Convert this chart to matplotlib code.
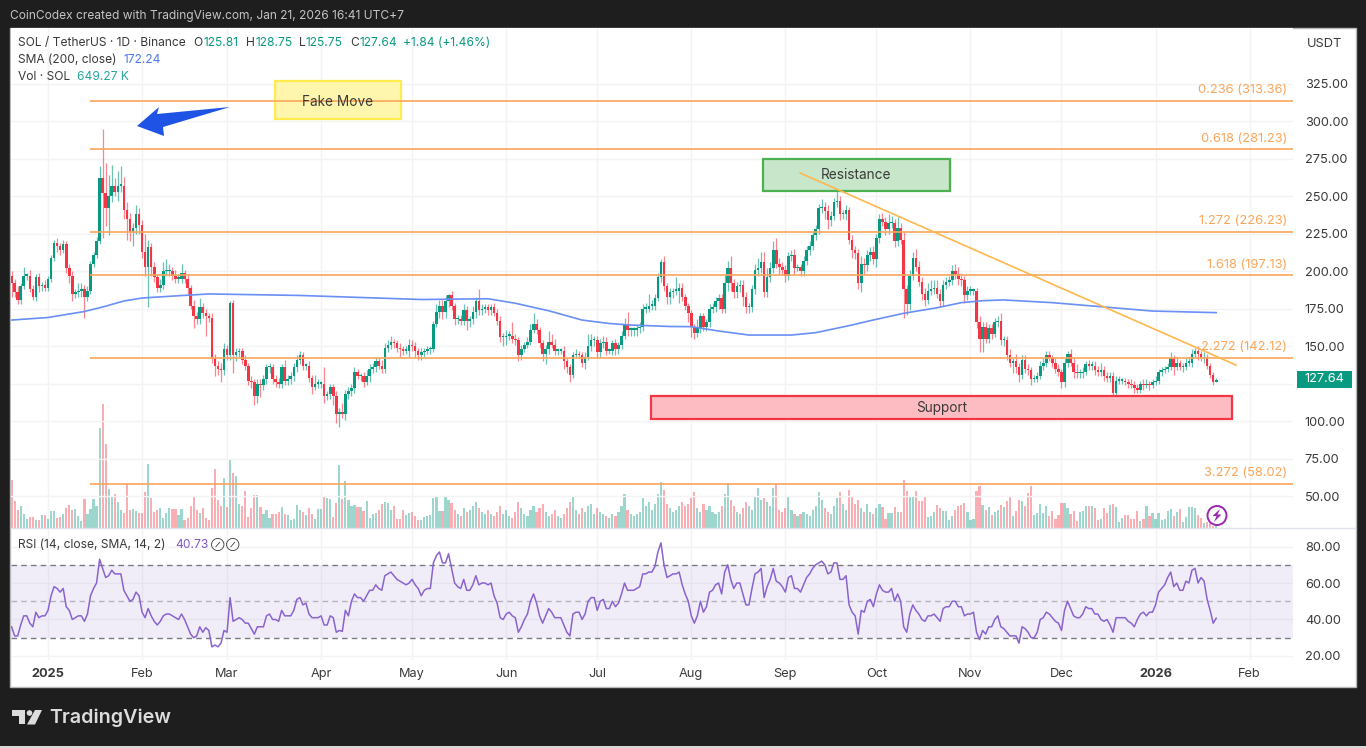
import matplotlib
matplotlib.use('Agg')
import matplotlib.pyplot as plt
import matplotlib.transforms as mtransforms
from matplotlib.patches import Rectangle, Polygon, Circle
from matplotlib.lines import Line2D
import numpy as np
import pandas as pd

plt.rcParams['font.family'] = ['Inter', 'DejaVu Sans']

# Daily closes, one row per month, Dec 20 2024 .. Jan 21 2026
closes = [
    192,186,181,190,197,197,188,183,196,190,191,189,
    195,209,219,217,214,218,202,197,185,186,187,188,183,187,205,211,220,262,252,242,250,257,253,257,257,241,235,226,229,238,231,
    213,203,216,203,196,189,191,200,200,200,197,195,195,199,195,189,177,170,168,176,172,170,169,142,137,135,134,148,
    144,179,144,146,147,141,137,127,126,117,125,124,128,136,136,128,126,125,136,127,128,130,136,141,144,137,137,129,123,125,125,
    125,117,118,123,117,105,106,105,118,120,122,133,130,130,126,130,135,136,140,137,135,149,151,153,152,149,148,147,147,151,
    150,147,144,146,147,148,148,165,173,177,173,180,184,177,168,168,167,174,167,168,173,180,174,175,176,174,176,172,167,156,156,
    157,157,155,154,144,148,151,153,161,165,161,152,145,148,153,151,147,147,147,140,136,131,144,145,144,139,143,150,154,154,
    146,152,153,147,147,152,148,151,157,165,161,161,161,162,163,175,175,177,177,182,196,206,190,183,186,187,187,189,183,177,172,
    163,159,162,170,163,166,175,176,180,182,175,192,202,192,186,190,191,183,176,176,188,201,202,206,186,196,202,214,205,203,201,
    197,210,211,202,203,200,207,214,217,224,228,242,243,240,234,237,246,247,238,238,241,221,214,212,192,205,204,211,213,208,
    222,235,233,228,232,232,220,229,221,188,178,197,209,203,193,185,181,187,188,189,185,180,191,193,194,200,198,195,194,184,187,
    187,187,166,155,163,155,162,158,166,167,154,154,144,139,140,136,131,141,135,134,128,128,130,137,139,144,142,139,135,133,
    126,139,145,139,133,132,132,133,138,137,137,134,133,134,130,129,130,119,127,127,127,126,125,124,122,121,125,124,125,124,126,
    127,133,134,135,136,142,136,139,136,136,139,139,145,147,145,142,143,137,131,125.81,127.64,
]
first_open = 197

# Wick length above the body
wick_up = [
    3,3,4,2,6,2,4,3,2,3,2,3,
    2,2,2,3,2,3,2,3,3,2,5,4,3,3,2,2,3,8,33,20,14,14,5,10,13,6,5,4,3,6,4,
    3,12,5,3,3,2,4,6,8,5,3,4,3,6,2,3,2,4,3,6,3,3,2,3,3,3,4,4,
    3,1,2,3,2,2,3,2,3,2,3,3,3,2,3,2,3,3,2,5,3,3,3,3,3,2,2,3,2,6,3,
    2,11,2,2,2,3,3,6,3,3,3,3,2,2,3,4,3,3,3,3,4,3,3,4,2,2,3,2,3,4,
    3,3,2,3,2,2,2,2,5,4,4,4,1,3,2,3,3,4,3,2,4,3,8,3,2,2,2,3,3,3,3,
    4,3,9,3,2,3,2,3,4,7,3,2,2,3,7,5,4,2,2,3,2,2,2,3,2,2,3,8,4,3,
    3,3,4,3,2,2,3,2,3,4,8,2,2,2,3,3,4,8,4,3,3,2,4,2,3,2,9,3,3,2,2,
    2,2,6,2,2,2,3,3,3,3,3,6,5,8,3,3,3,3,3,3,3,4,7,7,7,6,4,6,8,4,3,
    3,3,3,4,2,2,3,3,3,3,3,3,5,3,4,3,3,7,3,3,3,2,3,3,3,5,4,3,3,4,
    3,3,4,3,6,5,3,7,3,5,3,4,4,6,4,3,4,5,6,5,5,3,3,3,3,4,5,5,4,3,3,
    3,2,2,4,3,3,3,3,3,3,5,3,3,4,3,5,3,3,3,3,2,3,3,3,3,3,3,2,3,3,
    2,3,2,3,3,5,3,3,2,3,3,3,3,5,3,3,3,3,3,3,2,2,2,3,3,3,2,3,3,2,2,
    3,2,2,2,3,4,2,3,2,3,3,4,3,2,3,2,3,2,2,2,1.11,
]

# Wick length below the body
wick_down = [
    9,3,3,3,2,3,2,2,3,4,3,2,
    2,2,2,4,3,2,3,5,5,3,3,4,14,3,2,2,2,2,30,12,18,4,3,6,4,6,14,6,9,4,6,
    4,6,27,6,3,3,3,3,3,3,3,3,3,3,3,4,2,8,3,3,3,13,3,3,7,4,8,3,
    3,3,12,4,3,3,3,3,4,6,5,8,3,3,4,3,3,3,3,3,3,3,3,3,3,3,3,3,5,2,3,
    3,5,3,3,6,6,9,3,4,3,3,3,2,3,3,2,4,3,3,2,3,3,3,3,3,3,5,3,2,4,
    3,4,3,3,3,2,3,2,2,4,5,4,4,3,4,3,3,3,6,4,3,4,3,3,3,3,3,2,3,3,6,
    5,3,3,3,4,3,2,2,2,2,3,3,5,7,3,2,3,3,2,5,4,5,2,2,2,3,4,2,3,4,
    4,3,3,3,2,3,4,3,3,2,4,4,4,4,3,3,3,2,3,3,2,3,3,5,5,4,3,8,3,3,6,
    7,4,3,3,3,3,3,3,3,5,3,3,5,5,4,4,4,6,4,4,3,3,4,3,3,3,3,3,3,5,3,
    4,3,3,4,2,3,3,3,3,3,3,3,3,5,6,4,3,3,4,3,4,3,5,4,4,6,6,4,4,3,
    5,3,3,4,3,3,4,3,3,19,7,4,3,3,3,4,4,3,3,3,3,4,3,3,3,3,3,4,4,5,3,
    3,3,4,9,9,3,3,3,2,3,3,4,3,3,7,4,5,3,3,3,4,2,2,2,3,3,2,3,3,3,
    4,3,3,2,4,3,3,3,2,3,3,3,3,3,3,3,3,3,3,2,2,2,3,2,3,2,2,3,2,3,2,
    2,2,3,2,2,2,5,2,2,3,2,2,3,2,4,2,3,2,2,2,0.06,
]

# Volume, in units of 200K SOL
volume = [
    48,27,18,22,14,9,11,11,8,8,13,13,
    9,17,17,10,11,14,20,23,18,19,12,7,29,14,19,29,22,100,124,84,39,31,34,26,18,15,45,18,19,17,15,
    15,36,64,30,16,18,20,10,15,20,19,19,13,19,8,10,22,32,18,15,20,10,8,40,59,28,22,50,
    21,68,55,52,24,22,37,11,20,33,33,21,14,18,10,14,14,16,21,14,13,8,9,23,18,16,13,20,14,9,19,
    19,32,30,29,11,25,63,29,47,28,22,23,21,21,17,27,10,14,15,18,24,26,25,18,22,9,9,18,13,15,
    16,12,8,8,11,12,13,30,32,17,17,32,28,25,18,14,12,20,16,18,22,26,20,16,14,18,14,12,16,22,14,
    18,12,10,16,26,20,14,12,18,22,16,20,24,16,12,14,18,12,10,14,20,26,32,18,14,20,16,22,24,14,
    20,16,14,12,10,14,12,16,22,34,18,14,12,14,16,30,22,26,18,24,34,46,38,24,20,16,18,22,26,22,24,
    30,36,20,16,24,18,22,16,14,16,22,34,45,28,22,16,14,20,26,22,18,32,40,28,30,26,22,40,44,18,16,
    20,32,18,14,12,14,16,14,12,18,22,36,28,20,16,14,22,30,36,24,18,38,32,24,28,20,16,24,16,14,
    20,24,21,9,15,15,21,16,16,48,37,32,32,37,27,27,31,11,12,16,23,20,17,17,8,12,18,22,23,25,16,
    8,9,37,42,23,18,21,13,16,18,23,21,27,31,12,17,28,27,22,35,42,13,15,24,15,22,12,17,9,13,
    25,25,20,14,17,7,16,17,22,22,22,20,8,9,20,15,23,24,21,6,10,13,13,9,9,17,7,9,22,12,15,
    9,15,8,9,17,19,12,16,19,6,11,21,21,20,13,10,5,6,5,2,3,
]

rsi = [
    36,31,31,37,42,42,38,36,44,41,42,42,
    45,53,58,57,55,57,47,45,40,41,42,42,39,43,53,57,60,73,68,63,64,67,65,65,65,56,53,50,51,55,53,
    44,41,46,42,39,37,39,42,43,43,42,41,40,43,40,36,32,30,31,36,33,35.5,34,25,26,25,27,34,
    33,52,39,40,41,40,38,38,35,32,36,36,36,42,43,40,40,39,45,42,42,42,45,51,52,48,49,43,41,41,41,
    42,37,37,42,41,33,34,33.5,45,42,50,54,52,52,50,53,56,56,59,57,56,64,65,66,64,62,61,60,59,60,
    62,59,57,53,56,57,57,71,75,77,71,71,76,68,60,58,57,62,56,56,59,64,59,60,60,59,60,53,49,41,40,
    43,44,42,41,33,36,40,43,50,54,49,42,38,42,46,44,41,41,41,37,33,31,43,44,44,40,43,50,52,52,
    45,50,51,46,46,50,47,49,54,60,56,56,56,57,58,65,65,66,66,69,77,82,70,63,64,65,65,66,59,54,50,
    42,38,42,50,44,47,55,56,59,60,54,66,70,62,57,60,60,54,48,48,57,65,66,68,52,58,62,68,61,60,58,
    55,63,64,57,57,55,59,63,65,68,70,71,72,70,65,66,71,71,62,62,64,48,44,42,32,45,44,50,51,47,
    54,59,56,55,55,57,50,54,50,36,33,43,48,45,43,40,39,42,42,43,41,39,46,47,47,50,50,47,47,42,43,
    43,44,33,29,34,32,36,36,40,42,36,35,33,31,31,31,27,36,35,33,30,30,33,40,41,44,43,41,39,38,
    34,45,50,46,42,41,41,43,47,46,46,43,43,40,39,40,37,33,41,41,41,41,39,38,36,40,43,44,42,44,44,
    48,55,57,59,63,66,58,60,56,56,61,60,67,68,60,63,61,51,45,38,40.73,
]

# SMA 200 read at a few days along the curve
sma_days = [0,12,24,30,37,43,55,65,95,135,157,166,177,188,197,204,217,224,233,243,257,265,277,283,294,305,313,320,327,343,359,376,397]
sma_vals = [167.3,169,173,176,180,182,183.5,184.7,183.7,181,181.5,178.5,173.5,167.3,165,164,163,162.9,160,157.3,157.3,158.9,164,166.9,171.8,175.5,178.9,180.2,180.7,178.9,176.2,173.3,172.24]

# Fib levels
fib_names = ['0.236','0.618','1.272','1.618','2.272','3.272']
fib_vals = [313.36,281.23,226.23,197.13,142.12,58.02]
fib_start = 25.7

# Trend line and boxes (day, price)
trend_days = [259.9,403.5]
trend_vals = [265.3,137.3]
fake_box = [86.9,128.2,301.3,326.7]
res_box = [247.7,309.1,253.5,274.5]
sup_box = [210.7,402.2,101.3,116.7]

price_ticks = [50,75,100,125,150,175,200,225,250,275,300,325]
rsi_ticks = [20,40,60,80]
tick_dates = ['2025-01-01','2025-02-01','2025-03-01','2025-04-01','2025-05-01','2025-06-01','2025-07-01',
              '2025-08-01','2025-09-01','2025-10-01','2025-11-01','2025-12-01','2026-01-01','2026-02-01']
tick_labels = ['2025','Feb','Mar','Apr','May','Jun','Jul','Aug','Sep','Oct','Nov','Dec','2026','Feb']

assert all(len(a) == 398 for a in (closes, wick_up, wick_down, volume, rsi)), \
    (len(closes), len(wick_up), len(wick_down), len(volume), len(rsi))

UP, DOWN = '#089981', '#F23645'
ORANGE = '#F9A65A'
GRID = '#F3F3F4'
INK = '#3A3A3A'
start = pd.Timestamp('2024-12-20')
x = np.arange(len(closes))
c = np.array(closes, dtype=float)
o = np.r_[first_open, c[:-1]]
hi = np.maximum(o, c) + np.array(wick_up)
lo = np.minimum(o, c) - np.array(wick_down)
up = c >= o
colors = np.where(up, UP, DOWN)
ticks_x = [(pd.Timestamp(d) - start).days for d in tick_dates]

W, H = 1366, 748
fig = plt.figure(figsize=(W/100, H/100), dpi=100, facecolor='#1E1E1E')
px = mtransforms.Affine2D().scale(1/W, -1/H).translate(0, 1) + fig.transFigure

def box(l, t, r, b):
    return [l/W, 1-b/H, (r-l)/W, (b-t)/H]

def ptext(xp, yp, s, color=INK, size=8.65, ha='left', **kw):
    fig.text(xp, yp, s, transform=px, color=color, fontsize=size, ha=ha, va='center', **kw)

# white panel behind the panes
fig.add_artist(Rectangle((10, 27.5), 1345.5, 659.5, transform=px, fc='white', ec='#B8B8B8', lw=1, zorder=-1))
fig.add_artist(Rectangle((0, 746.5), W, 1.5, transform=px, fc='#D8D8D8', ec='none', zorder=-1))

xlim = (-0.2, 422.3)

# volume underneath, its own scale
ax_vol = fig.add_axes(box(11, 28, 1293, 528), zorder=1)
ax_vol.bar(x, volume, width=0.72, color=colors, alpha=0.4, linewidth=0)
ax_vol.set_xlim(*xlim)
ax_vol.set_ylim(0, 500)
ax_vol.set_xticks(ticks_x)
ax_vol.set_xticklabels([])
ax_vol.set_yticks([])
ax_vol.tick_params(length=0)
ax_vol.grid(axis='x', color=GRID, lw=1)
ax_vol.set_axisbelow(True)
for s in ax_vol.spines.values():
    s.set_visible(False)

# price pane
ax = fig.add_axes(box(11, 28, 1293, 528), zorder=2)
ax.patch.set_visible(False)
ax.set_xlim(*xlim)
ax.set_ylim(28.67, 362)
ax.vlines(x, lo, hi, colors=colors, lw=0.9, alpha=0.6, zorder=3)
ax.bar(x, np.maximum(np.abs(c-o), 1.0), bottom=np.minimum(o, c), width=0.85, color=colors, linewidth=0, zorder=4)
ax.plot(sma_days, sma_vals, color='#6A8FF5', lw=1.2, zorder=5)

for b, fc, ec in ((fake_box, '#FFF6AE', '#FFEB4D'), (res_box, '#C8E6C9', '#4CAF50'), (sup_box, '#FDBCC2', '#F23645')):
    ax.add_patch(Rectangle((b[0], b[2]), b[1]-b[0], b[3]-b[2], fc=fc, ec=ec, lw=1.6, zorder=5))

for name, val in zip(fib_names, fib_vals):
    ax.plot([fib_start, xlim[1]], [val, val], color=ORANGE, lw=1.2, zorder=6, solid_capstyle='butt')
    ax.text(420.3, val+7, '%s (%.2f)' % (name, val), color=ORANGE, fontsize=9.3, ha='right', va='center', zorder=7)
ax.plot(trend_days, trend_vals, color='#FFB74D', lw=1.2, zorder=6)

ax.text(sum(fake_box[:2])/2, sum(fake_box[2:])/2-1.2, 'Fake Move', color=INK, fontsize=9.8, ha='center', va='center', zorder=7)
ax.text(sum(res_box[:2])/2, sum(res_box[2:])/2, 'Resistance', color=INK, fontsize=9.8, ha='center', va='center', zorder=7)
ax.text(sum(sup_box[:2])/2, sum(sup_box[2:])/2-0.6, 'Support', color=INK, fontsize=9.8, ha='center', va='center', zorder=7)

ax.yaxis.tick_right()
ax.set_yticks(price_ticks)
ax.set_yticklabels(['' if t == 125 else '%.2f' % t for t in price_ticks], color=INK, fontsize=9.2)
ax.set_xticks(ticks_x)
ax.set_xticklabels([])
ax.tick_params(length=0)
ax.tick_params(axis='y', pad=8.5)
ax.grid(axis='y', color=GRID, lw=1)
ax.set_axisbelow(True)
for s in ax.spines.values():
    s.set_visible(False)

# rsi pane
ax_rsi = fig.add_axes(box(11, 529, 1293, 660), zorder=2)
ax_rsi.patch.set_visible(False)
ax_rsi.set_xlim(*xlim)
ax_rsi.set_ylim(17.8, 89.6)
ax_rsi.axhspan(30, 70, color='#7E57C2', alpha=0.1, lw=0)
ax_rsi.axhline(70, color='#787B86', lw=1, ls=(0, (4, 3)))
ax_rsi.axhline(30, color='#787B86', lw=1, ls=(0, (4, 3)))
ax_rsi.axhline(50, color='#787B86', lw=1, ls=(0, (4, 3)), alpha=0.5)
ax_rsi.plot(x, rsi, color='#8A63CF', lw=1.1)
ax_rsi.yaxis.tick_right()
ax_rsi.set_yticks(rsi_ticks)
ax_rsi.set_yticklabels(['%.2f' % t for t in rsi_ticks], color=INK, fontsize=9.2)
ax_rsi.set_xticks(ticks_x)
ax_rsi.set_xticklabels(tick_labels, color=INK, fontsize=9.2)
for lab, txt in zip(ax_rsi.get_xticklabels(), tick_labels):
    if txt.isdigit():
        lab.set_fontweight('bold')
ax_rsi.tick_params(length=0)
ax_rsi.tick_params(axis='y', pad=8.5)
ax_rsi.tick_params(axis='x', pad=5.5)
ax_rsi.grid(color=GRID, lw=1)
ax_rsi.set_axisbelow(True)
for s in ax_rsi.spines.values():
    s.set_visible(False)

# pane separator and the clipped bottom of the 20.00 label
fig.add_artist(Line2D([11, 1355], [528.5, 528.5], transform=px, color='#E0E3EB', lw=1, zorder=3))
fig.add_artist(Rectangle((1296, 660), 56, 8, transform=px, fc='white', ec='none', zorder=3))

# top strip
ptext(10, 16, 'CoinCodex created with TradingView.com, Jan 21, 2026 16:41 UTC+7', color='#C4C4C4', size=8.62)

# legend rows
ptext(18, 43, 'SOL / TetherUS · 1D · Binance')
for xp, s, col in ((193, 'O', INK), (203, '125.81', UP), (246, 'H', INK), (255, '128.75', UP),
                   (299, 'L', INK), (306, '125.75', UP), (350, 'C', INK), (360, '127.64', UP),
                   (403, '+1.84 (+1.46%)', UP)):
    ptext(xp, 43, s, color=col)
ptext(18, 60, 'SMA (200, close)')
ptext(123, 60, '172.24', color='#4C78F0')
ptext(18, 77, 'Vol · SOL')
ptext(77, 77, '649.27 K', color='#26A69A')
ptext(18, 545, 'RSI (14, close, SMA, 14, 2)')
ptext(175, 545, '40.73', color='#7E57C2')
ptext(217.5, 545, '⊘', size=7, ha='center')
ptext(233, 545, '⊘', size=7, ha='center')

# right axis extras
ptext(1324, 44, 'USDT', ha='center', size=9.2)
fig.add_artist(Rectangle((1297, 371), 55, 17, transform=px, fc=UP, ec='none', zorder=3))
ptext(1324.5, 379.5, '127.64', color='white', ha='center', size=9.2, zorder=4)

# blue arrow
fig.add_artist(Polygon([(137, 126), (159, 107), (157, 114), (230, 107), (163, 127), (164, 136)],
                       transform=px, fc='#1E53E5', ec='none', zorder=3))

# lightning badge
fig.add_artist(Circle((1217, 515.5), 9.5, transform=px, fc='white', ec='#9C27B0', lw=1.4, zorder=3))
fig.add_artist(Polygon([(1220, 509), (1212.5, 516), (1216.5, 516), (1214, 522), (1221.5, 514.5), (1217.5, 514.5)],
                       transform=px, fc='#9C27B0', ec='none', zorder=4))

# TradingView logo
LOGO = '#DCDCDC'
fig.add_artist(Polygon([(12, 710), (25, 710), (25, 724.5), (19, 724.5), (19, 716), (12, 716)], transform=px, fc=LOGO, ec='none'))
fig.add_artist(Circle((29.5, 713), 2.8, transform=px, fc=LOGO, ec='none'))
fig.add_artist(Polygon([(35, 710), (42, 710), (35, 724.5), (27, 724.5)], transform=px, fc=LOGO, ec='none'))
ptext(49.5, 717.5, 'TradingView', color=LOGO, size=14.2, fontweight='semibold')

fig.savefig('out.png', dpi=100, facecolor=fig.get_facecolor())
